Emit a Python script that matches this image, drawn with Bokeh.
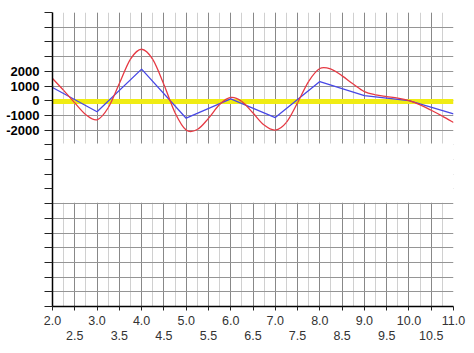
from bokeh.plotting import figure
from bokeh.models import FixedTicker, BoxAnnotation, LinearAxis, Range1d
from bokeh.embed import file_html
from bokeh.resources import INLINE

# ---- data ----
blue_x = [2, 3, 4, 5, 6, 7, 8, 9, 10, 11]
blue_y = [900, -750, 2150, -1190, 130, -1150, 1300, 350, 0, -900]

red_x = [2.0, 2.25, 2.5, 2.75, 3.0, 3.25, 3.5, 3.75, 4.0, 4.25, 4.5, 4.75,
         5.0, 5.25, 5.5, 5.75, 6.0, 6.25, 6.5, 6.75, 7.0, 7.25, 7.5, 7.75,
         8.0, 8.25, 8.5, 8.75, 9.0, 9.25, 9.5, 9.75, 10.0, 10.25, 10.5, 10.75, 11.0]
red_y = [1510, 700, -150, -950, -1300, -480, 1170, 2830, 3500, 2810, 1100, -820,
         -2000, -1960, -1200, -260, 220, -50, -840, -1660, -2000, -1470, -140, 1320,
         2190, 2150, 1690, 1130, 620, 400, 280, 170, 0, -280, -650, -1050, -1480]

yellow_x = [2.0, 11.0]
yellow_y = [-60, -60]

blank_band = (-6950, -2920)

y_ticks = list(range(-14000, 7000, 1000))
y_labels = {-2000: "-2000", -1000: "-1000", 0: "0", 1000: "1000", 2000: "2000"}
x_major = [2.0 + 0.5 * i for i in range(19)]
x_minor = [2.0 + 0.25 * i for i in range(37)]
x_row1 = [2.0, 3.0, 4.0, 5.0, 6.0, 7.0, 8.0, 9.0, 10.0, 11.0]
x_row2 = [2.5, 3.5, 4.5, 5.5, 6.5, 7.5, 8.5, 9.5, 10.5]

# ---- figure ----
p = figure(width=474, height=353, output_backend="svg", toolbar_location=None,
           x_range=Range1d(2.0, 11.0), y_range=Range1d(-14000, 6000),
           min_border_left=52, min_border_right=21, min_border_top=12,
           min_border_bottom=47, x_axis_location=None, y_axis_location="left")
p.outline_line_color = None
p.background_fill_color = "white"

# grids
p.xgrid.ticker = FixedTicker(ticks=x_major, minor_ticks=x_minor)
p.xgrid.grid_line_color = "#888888"
p.xgrid.minor_grid_line_color = "#d0d0d0"
p.ygrid.ticker = FixedTicker(ticks=y_ticks)
p.ygrid.grid_line_color = "#959595"

band = BoxAnnotation(bottom=blank_band[0], top=blank_band[1], fill_color="white",
                     fill_alpha=1.0, line_color=None, level="underlay")
p.add_layout(band)

# y axis
ya = p.yaxis[0]
ya.ticker = FixedTicker(ticks=y_ticks)
ya.major_label_overrides = {t: y_labels.get(t, "") for t in y_ticks}
ya.minor_tick_line_color = None
ya.major_tick_in = 0
ya.major_tick_out = 8
ya.major_label_standoff = 5
ya.axis_line_color = "black"
ya.axis_line_width = 1.5
ya.major_tick_line_color = "#222222"
ya.major_label_text_font = "Liberation Sans"
ya.major_label_text_font_style = "bold"
ya.major_label_text_font_size = "13px"
ya.major_label_text_color = "black"

# x axis row 1
xa = LinearAxis(ticker=FixedTicker(ticks=x_major))
xa.major_label_overrides = {t: ("%.1f" % t if t in x_row1 else "") for t in x_major}
xa.minor_tick_line_color = None
xa.major_tick_in = 0
xa.major_tick_out = 4
xa.major_label_standoff = 5
xa.axis_line_color = "black"
xa.axis_line_width = 1.5
xa.major_tick_line_color = "#222222"
xa.major_label_text_font = "Liberation Sans"
xa.major_label_text_font_size = "12.5px"
xa.major_label_text_color = "#333333"
p.add_layout(xa, "below")

# x axis row 2 (staggered labels)
xb = LinearAxis(ticker=FixedTicker(ticks=x_row2))
xb.major_label_overrides = {t: "%.1f" % t for t in x_row2}
xb.axis_line_color = None
xb.major_tick_line_color = None
xb.minor_tick_line_color = None
xb.major_tick_in = 0
xb.major_tick_out = 0
xb.major_label_standoff = 3
xb.major_label_text_font = "Liberation Sans"
xb.major_label_text_font_size = "12.5px"
xb.major_label_text_color = "#333333"
p.add_layout(xb, "below")

# series
p.line(yellow_x, yellow_y, line_color="#f0ec14", line_width=5)
p.line(blue_x, blue_y, line_color="#4848e6", line_width=1.3)

# smooth red curve: cubic bezier segments through the read points
n = len(red_x)
def pt(i):
    i = min(max(i, 0), n - 1)
    return red_x[i], red_y[i]
bx0, by0, bx1, by1, c0x, c0y, c1x, c1y = ([] for _ in range(8))
for i in range(n - 1):
    xm, ym = pt(i - 1)
    xa0, ya0 = pt(i)
    xb1, yb1 = pt(i + 1)
    xp, yp = pt(i + 2)
    bx0.append(xa0); by0.append(ya0); bx1.append(xb1); by1.append(yb1)
    c0x.append(xa0 + (xb1 - xm) / 6.0); c0y.append(ya0 + (yb1 - ym) / 6.0)
    c1x.append(xb1 - (xp - xa0) / 6.0); c1y.append(yb1 - (yp - ya0) / 6.0)
p.bezier(x0=bx0, y0=by0, x1=bx1, y1=by1, cx0=c0x, cy0=c0y, cx1=c1x, cy1=c1y,
         line_color="#e63a44", line_width=1.3)

open("out.html", "w").write(file_html(p, INLINE))
